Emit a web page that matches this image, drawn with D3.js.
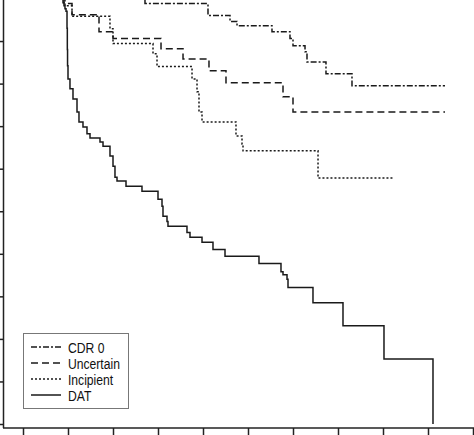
<!DOCTYPE html>
<html>
<head>
<meta charset="utf-8">
<script src="https://cdn.jsdelivr.net/npm/d3@7"></script>
<style>
  body { margin: 0; background: #fff; }
  svg { display: block; }
  .legend text { font-family: "Liberation Sans", Arial, sans-serif; font-size: 15px; fill: #111; }
</style>
</head>
<body>
<div id="chart"></div>
<script>
// survival curves, time in tick units (ticks 0..10), survival proportion
const cdr0Time = [0.867, 2.711, 4.111, 4.6, 4.756, 5.533, 5.933, 6.0, 6.267, 6.311, 6.733, 7.311];
const cdr0Surv = [1, 0.988, 0.96, 0.946, 0.936, 0.922, 0.906, 0.889, 0.875, 0.851, 0.823, 0.795];
const cdr0End = 9.378;

const uncTime = [0.867, 0.911, 1.089, 1.689, 2.0, 3.067, 3.556, 4.133, 4.511, 5.778, 6.0];
const uncSurv = [1, 0.988, 0.962, 0.922, 0.906, 0.882, 0.858, 0.83, 0.802, 0.769, 0.733];
const uncEnd = 9.378;

const incTime = [0.867, 0.933, 1.089, 1.933, 2.0, 2.889, 2.978, 3.756, 3.867, 3.911, 3.978, 4.733, 4.867, 4.889, 6.556];
const incSurv = [1, 0.983, 0.958, 0.929, 0.894, 0.87, 0.84, 0.811, 0.781, 0.733, 0.71, 0.677, 0.658, 0.642, 0.578];
const incEnd = 8.222;

const datTime = [0.867, 0.889, 0.911, 0.933, 0.956, 0.978, 0.985, 0.99, 1.0, 1.044, 1.111, 1.2, 1.244, 1.333, 1.422, 1.489,
  1.711, 1.778, 1.933, 2.0, 2.044, 2.089, 2.289, 2.644, 3.0, 3.089, 3.111, 3.2, 3.222, 3.644, 3.711, 3.978, 4.222, 4.489,
  5.244, 5.733, 5.778, 5.867, 5.889, 6.444, 7.111, 8.022, 9.111];
const datSurv = [1, 0.99, 0.983, 0.976, 0.97, 0.93, 0.88, 0.842, 0.811, 0.788, 0.764, 0.733, 0.71, 0.698, 0.682, 0.672,
  0.663, 0.653, 0.63, 0.606, 0.58, 0.571, 0.559, 0.547, 0.528, 0.512, 0.488, 0.476, 0.465, 0.45, 0.439, 0.427, 0.41, 0.394,
  0.377, 0.358, 0.351, 0.34, 0.321, 0.285, 0.231, 0.153, 0];
const datEnd = 9.111;

const groupNames = ["CDR 0", "Uncertain", "Incipient", "DAT"];
const xTicks = d3.range(0, 11);
const yTicks = d3.range(0, 1.01, 0.1);

const w = 474, h = 435;
const svg = d3.select("#chart").append("svg").attr("width", w).attr("height", h);

const xScale = d3.scaleLinear().domain([0, 10]).range([23, 473]);
const yScale = d3.scaleLinear().domain([0, 1]).range([424, -1.5]);

function steps(times, surv, end) {
  const pts = times.map((t, i) => [t, surv[i]]);
  if (end > times[times.length - 1]) pts.push([end, surv[surv.length - 1]]);
  return pts;
}

const series = [
  { name: groupNames[0], pts: steps(cdr0Time, cdr0Surv, cdr0End), dash: "6,2,2,2" },
  { name: groupNames[1], pts: steps(uncTime, uncSurv, uncEnd), dash: "7,4" },
  { name: groupNames[2], pts: steps(incTime, incSurv, incEnd), dash: "2,2" },
  { name: groupNames[3], pts: steps(datTime, datSurv, datEnd), dash: null }
];

const line = d3.line()
  .x(d => xScale(d[0]))
  .y(d => yScale(d[1]))
  .curve(d3.curveStepAfter);

svg.selectAll("path.km")
  .data(series)
  .enter()
  .append("path")
  .attr("class", "km")
  .attr("d", d => line(d.pts))
  .attr("fill", "none")
  .attr("stroke", "#1a1a1a")
  .attr("stroke-width", 1.5)
  .attr("stroke-dasharray", d => d.dash);

// axes
const yAxis = d3.axisLeft(yScale).tickValues(yTicks).tickSize(4).tickFormat("");
const gy = svg.append("g").attr("transform", "translate(3.5,0)").call(yAxis);
gy.select(".domain").remove();
gy.selectAll("line").attr("stroke", "#222").attr("stroke-width", 1.5);

const xAxis = d3.axisBottom(xScale).tickValues(xTicks).tickSize(8).tickFormat("");
const gx = svg.append("g").attr("transform", "translate(0,428)").call(xAxis);
gx.select(".domain").remove();
gx.selectAll("line").attr("stroke", "#222").attr("stroke-width", 1.5);

svg.append("line").attr("x1", 3.5).attr("x2", 3.5).attr("y1", 0).attr("y2", 428)
  .attr("stroke", "#222").attr("stroke-width", 1.5);
svg.append("line").attr("x1", 3).attr("x2", w).attr("y1", 428).attr("y2", 428)
  .attr("stroke", "#222").attr("stroke-width", 1.5);

// legend
const legend = svg.append("g").attr("class", "legend");
legend.append("rect")
  .attr("x", 23.5).attr("y", 333.5).attr("width", 105).attr("height", 75)
  .attr("fill", "#fff").attr("stroke", "#777").attr("stroke-width", 1);

const rows = legend.selectAll("g.row")
  .data(series)
  .enter()
  .append("g")
  .attr("class", "row")
  .attr("transform", (d, i) => "translate(0," + (347 + i * 16) + ")");
rows.append("line")
  .attr("x1", 31).attr("x2", 61).attr("y1", 0).attr("y2", 0)
  .attr("stroke", "#1a1a1a").attr("stroke-width", 1.5)
  .attr("stroke-dasharray", d => d.dash);
// condensed look: squeeze the text horizontally
rows.append("text")
  .attr("transform", "translate(68,5.5) scale(0.81,1)")
  .text(d => d.name);
</script>
</body>
</html>
